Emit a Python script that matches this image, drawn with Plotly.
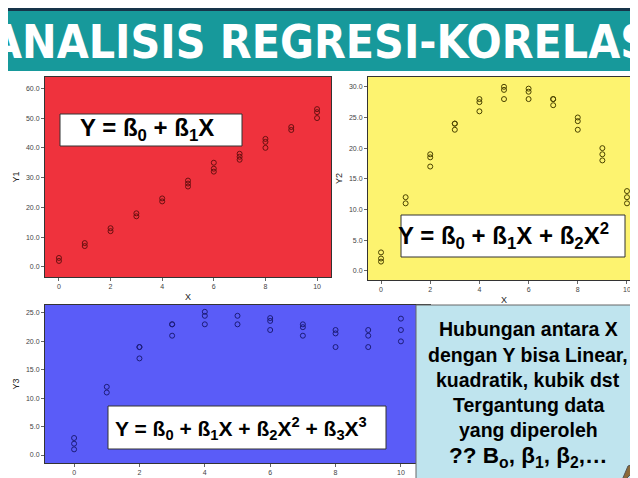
import plotly.graph_objects as go

# Data (x = 0..10, two or three obs per x)
x1 = [0, 0, 1, 1, 2, 2, 3, 3, 4, 4, 5, 5, 5, 6, 6, 6, 7, 7, 7, 8, 8, 8, 9, 9, 10, 10, 10]
y1 = [2, 3, 7, 8, 12, 13, 17, 18, 22, 23, 27, 28, 29, 32, 33, 35, 36, 37, 38, 40, 42, 43, 46, 47, 50, 52, 53]

x2 = [0, 0, 0, 1, 1, 2, 2, 2, 3, 3, 3, 4, 4, 4, 5, 5, 5, 6, 6, 6, 7, 7, 7, 8, 8, 8, 9, 9, 9, 10, 10, 10]
y2 = [1.5, 2, 3, 11, 12, 17, 18.5, 19, 23, 24, 24, 26, 27.5, 28, 28, 29.5, 30, 28, 29.2, 29.7,
      27, 28, 28, 23, 24.4, 25, 18, 19, 20, 11, 12, 13]

x3 = [0, 0, 0, 1, 1, 2, 2, 2, 3, 3, 3, 4, 4, 4, 5, 5, 6, 6, 6, 7, 7, 7, 8, 8, 8, 9, 9, 9, 10, 10, 10]
y3 = [1, 2, 3, 11, 12, 17, 19, 19, 21, 23, 23, 23, 24.5, 25.2, 23, 24.5, 22, 23.6, 24.1,
      21, 22.5, 23, 19, 21.4, 22, 19, 21, 22, 20, 22, 24]

judul = "ANALISIS REGRESI-KORELASI"
eq1 = "Y = ß<sub>0</sub> + ß<sub>1</sub>X"
eq2 = "Y = ß<sub>0</sub> + ß<sub>1</sub>X + ß<sub>2</sub>X<sup>2</sup>"
eq3 = "Y = ß<sub>0</sub> + ß<sub>1</sub>X + ß<sub>2</sub>X<sup>2</sup> + ß<sub>3</sub>X<sup>3</sup>"
catatan = ["Hubungan antara X", "dengan Y bisa Linear,", "kuadratik, kubik dst",
           "Tergantung data", "yang diperoleh", "?? B<sub>o</sub>, β<sub>1</sub>, β<sub>2</sub>,…"]

W, H = 638, 478


def px(x):
    return x / W


def py(y):
    return 1 - y / H


fig = go.Figure()

fig.add_trace(go.Scatter(x=x1, y=y1, mode="markers", xaxis="x", yaxis="y",
                         marker=dict(symbol="circle-open", size=5, color="#6a1010", line=dict(width=1))))
fig.add_trace(go.Scatter(x=x2, y=y2, mode="markers", xaxis="x2", yaxis="y2",
                         marker=dict(symbol="circle-open", size=5, color="#4a4200", line=dict(width=1))))
fig.add_trace(go.Scatter(x=x3, y=y3, mode="markers", xaxis="x3", yaxis="y3",
                         marker=dict(symbol="circle-open", size=5, color="#1c1c78", line=dict(width=1))))

tick_font = dict(family="Arial", size=7, color="#444")
title_font = dict(family="Arial", size=9, color="#222")
common = dict(showgrid=False, zeroline=False, showline=True, mirror=True, linecolor="#333",
              linewidth=1, ticks="outside", ticklen=3, tickcolor="#666", tickfont=tick_font)

shapes = [
    dict(type="rect", xref="paper", yref="paper", x0=0, x1=1, y0=py(3), y1=1,
         fillcolor="#17344a", line=dict(width=0), layer="below"),
    dict(type="rect", xref="paper", yref="paper", x0=0, x1=1, y0=py(63), y1=py(3),
         fillcolor="#17999b", line=dict(width=0), layer="below"),
    # kotak persamaan
    dict(type="rect", xref="paper", yref="paper", x0=px(52), x1=px(234), y0=py(138), y1=py(106),
         fillcolor="white", line=dict(color="#333", width=1)),
    dict(type="rect", xref="paper", yref="paper", x0=px(393), x1=px(617), y0=py(249), y1=py(207),
         fillcolor="white", line=dict(color="#333", width=1)),
    dict(type="rect", xref="paper", yref="paper", x0=px(100), x1=px(378), y0=py(441), y1=py(398),
         fillcolor="white", line=dict(color="#333", width=1)),
    # kotak keterangan
    dict(type="rect", xref="paper", yref="paper", x0=px(408), x1=px(637), y0=py(477), y1=py(297),
         fillcolor="#bfe4ee", line=dict(color="#666", width=1)),
    dict(type="path", xref="paper", yref="paper",
         path=f"M {px(612)} {py(477)} L {px(637)} {py(452)} L {px(620)} {py(458)} Z",
         fillcolor="#8a6a3a", line=dict(color="#555", width=1)),
]


def teks(text, x, y, size, family="Arial", color="black"):
    return dict(text=text, x=px(x), y=py(y), xref="paper", yref="paper", showarrow=False,
                xanchor="center", yanchor="middle",
                font=dict(family=family, size=size, color=color, weight="bold"))


annotations = [
    teks(judul, 319, 34, 46, family="DejaVu Sans Condensed, Liberation Sans Narrow, DejaVu Sans",
         color="white"),
    teks(eq1, 139, 122, 24),
    teks(eq2, 496, 228, 24),
    teks(eq3, 233, 420, 21),
]
line_y = [321, 347, 372, 397, 422, 449]
for i, (baris, yy) in enumerate(zip(catatan, line_y)):
    annotations.append(teks(baris, 520, yy, 22.5 if i == 5 else 19.5))

fig.update_layout(
    width=W, height=H, margin=dict(l=0, r=0, t=0, b=0),
    paper_bgcolor="white", showlegend=False,
    xaxis=dict(domain=[px(37), px(323)], range=[-0.54, 10.54], dtick=2, anchor="y",
               title=dict(text="X", font=title_font, standoff=4), **common),
    yaxis=dict(domain=[py(269), py(69)], range=[-3.4, 63.8], dtick=10, tickformat=".1f",
               anchor="x", title=dict(text="Y1", font=title_font, standoff=4), **common),
    xaxis2=dict(domain=[px(360), px(632)], range=[-0.53, 10.53], dtick=2, anchor="y2",
                title=dict(text="X", font=title_font, standoff=4), **common),
    yaxis2=dict(domain=[py(272), py(69)], range=[-1.5, 31.6], dtick=5, tickformat=".1f",
                anchor="x2", title=dict(text="Y2", font=title_font, standoff=4), **common),
    xaxis3=dict(domain=[px(37), px(422)], range=[-0.89, 10.89], dtick=2, anchor="y3",
                title=dict(text="X", font=title_font, standoff=4), **common),
    yaxis3=dict(domain=[py(455), py(297)], range=[-1.4, 26.4], dtick=5, tickformat=".1f",
                anchor="x3", title=dict(text="Y3", font=title_font, standoff=4), **common),
    shapes=shapes,
    annotations=annotations,
)

# warna latar tiap grafik lewat persegi di belakang data
for xa, ya, warna in [("x", "y", "#ef323d"), ("x2", "y2", "#fdf36f"), ("x3", "y3", "#5a5cf8")]:
    fig.add_shape(type="rect", xref=f"{xa} domain", yref=f"{ya} domain", x0=0, x1=1, y0=0, y1=1,
                  fillcolor=warna, line=dict(width=0), layer="below")

fig.write_html("out.html")
